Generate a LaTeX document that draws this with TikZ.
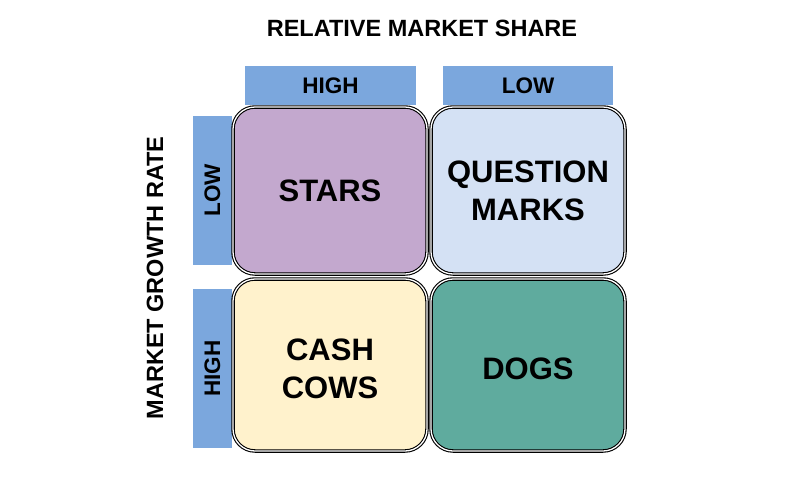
\documentclass[tikz,border=0pt]{standalone}
\usepackage{fontspec}
\setmainfont{Liberation Sans}
\usetikzlibrary{positioning,calc}
\definecolor{barblue}{HTML}{7BA7DD}
\definecolor{starsc}{HTML}{C3A8CE}
\definecolor{qmc}{HTML}{D4E1F4}
\definecolor{cowc}{HTML}{FFF2CC}
\definecolor{dogc}{HTML}{5FAB9E}
\begin{document}
\begin{tikzpicture}[x=1pt,y=-1pt,
  bar/.style={fill=barblue, draw=none, inner sep=0pt, font=\bfseries\fontsize{22.5}{22.5}\selectfont},
  cell/.style={draw=black, line width=1.1pt, double=white, double distance=1.3pt, rounded corners=22pt,
    minimum width=194pt, minimum height=167pt, inner sep=0pt, align=center,
    font=\bfseries\fontsize{31}{38}\selectfont},
  celltext/.style={align=center, inner sep=0pt, font=\bfseries\fontsize{31}{38}\selectfont}]
  % Fixed bounding box
  \path[use as bounding box] (0,0) rectangle (800,485);

  % Title
  \node[font=\bfseries\fontsize{23.5}{23.5}\selectfont] (title) at (422,28) {RELATIVE MARKET SHARE};

  % Header bars
  \node[bar, minimum width=171pt, minimum height=39pt] (hhigh) at (330.5,85.5) {HIGH};
  \node[bar, minimum width=170pt, minimum height=39pt] (hlow) at (528,85.5) {LOW};

  % Side bars
  \node[bar, minimum width=149pt, minimum height=39pt, rotate=90] (vlow) at (212.5,190.5) {LOW};
  \node[bar, minimum width=159pt, minimum height=39pt, rotate=90] (vhigh) at (212.5,368.5) {HIGH};

  % Matrix cells
  \node[cell, fill=starsc] (stars) at (330,190.5) {STARS};
  \node[cell, fill=qmc] (qm) at (528,190.5) {QUESTION\\MARKS};
  \node[cell, fill=cowc, minimum height=172pt] (cows) at (330,365) {};
  \node[cell, fill=dogc, minimum height=172pt] (dogs) at (528,365) {};
  \node[celltext] (cowstext) at ($(cows)+(0,4)$) {CASH\\COWS};
  \node[celltext] (dogstext) at ($(dogs)+(0,4)$) {DOGS};

  % Side label
  \node[rotate=90, font=\bfseries\fontsize{23.5}{23.5}\selectfont] (growth) at (155,278) {MARKET GROWTH RATE};
\end{tikzpicture}
\end{document}
